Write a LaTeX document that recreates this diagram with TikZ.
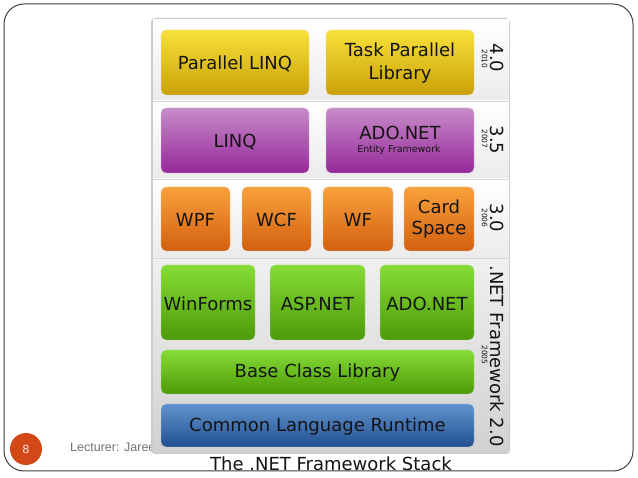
\documentclass[tikz,border=0pt]{standalone}
\usepackage{fontspec}
\setmainfont{DejaVu Sans}
\newfontfamily\arialf{Liberation Sans}
\definecolor{ytop}{HTML}{F7E13A}\definecolor{ybot}{HTML}{C9A006}
\definecolor{ptop}{HTML}{C78CC8}\definecolor{pbot}{HTML}{95289A}
\definecolor{otop}{HTML}{F9A13C}\definecolor{obot}{HTML}{D2600F}
\definecolor{gtop}{HTML}{86DC35}\definecolor{gbot}{HTML}{4C9A08}
\definecolor{btop}{HTML}{5F93CE}\definecolor{bbot}{HTML}{23508F}
\definecolor{ink}{HTML}{141414}
\definecolor{badge}{HTML}{D34817}
\tikzset{
  lbl/.style={font=\fontsize{18}{21}\selectfont,text=ink,align=center,inner sep=0pt,yshift=-1pt},
  ver/.style={font=\fontsize{18}{21}\selectfont,text=ink,rotate=-90,inner sep=0pt},
  yr/.style={font=\fontsize{7.5}{8}\selectfont,text=ink,rotate=-90,inner sep=0pt},
  rowline/.style={draw=black!16,line width=0.6pt}
}
\newcommand{\blk}[7]{% name, x1,y1,x2,y2, colour prefix, text
  \path[rounded corners=5pt,top color=#6top,bottom color=#6bot,draw=#6bot!35!white,line width=0.4pt] (#2,#3) rectangle (#4,#5);
  \node[lbl] (#1) at ({(#2+#4)/2},{(#3+#5)/2}) {#7};
}
\begin{document}
\begin{tikzpicture}[x=1pt,y=-1pt]
\useasboundingbox (0,0) rectangle (638,478);
\fill[white] (0,0) rectangle (638,478);
\draw[draw=black!75,line width=1pt,rounded corners=20pt] (4,4) rectangle (633,471);
\node[circle,fill=badge,minimum size=32pt,inner sep=0pt,text=white!90!badge,font=\arialf\fontsize{12}{14}\selectfont] (num) at (26,449) {8};
\node[anchor=west,inner sep=0pt,text=black!55,font=\arialf\fontsize{12.5}{14}\selectfont] (lect) at (70,447) {Lecturer: Jaree};
% panel
\path[rounded corners=4pt,fill=black!20] (151,18) rectangle (510,454);
\path[top color=white,bottom color=black!8] (153,20) -- (509,20) -- (509,101) -- (153,101) -- cycle;
\path[top color=white,bottom color=black!8] (153,101) rectangle (509,179);
\path[top color=white,bottom color=black!8] (153,179) rectangle (509,258);
\path[top color=black!6,bottom color=black!18] (153,258) rectangle (509,452);
\draw[rowline] (152,101) -- (510,101);
\draw[rowline] (152,179) -- (510,179);
\draw[rowline] (152,258) -- (510,258);
\blk{pl}{161}{30}{309}{95}{y}{Parallel LINQ}
\path[rounded corners=5pt,top color=ytop,bottom color=ybot,draw=ybot!35!white,line width=0.4pt] (326,30) rectangle (474,95);
\node[lbl,yshift=-1pt] (tpl) at (400,61.5) {Task Parallel\\[2pt]Library};
\blk{linq}{161}{108}{309}{173}{p}{LINQ}
\path[rounded corners=5pt,top color=ptop,bottom color=pbot,draw=pbot!35!white,line width=0.4pt] (326,108) rectangle (474,173);
\node[lbl,yshift=1pt] (ado) at (400,133) {ADO.NET};
\node[inner sep=0pt,text=ink,font=\fontsize{9.5}{11}\selectfont] (ef) at (399,150) {Entity Framework};
\blk{wpf}{161}{187}{230}{251}{o}{WPF}
\blk{wcf}{242}{187}{311}{251}{o}{WCF}
\blk{wf}{323}{187}{393}{251}{o}{WF}
\path[rounded corners=5pt,top color=otop,bottom color=obot,draw=obot!35!white,line width=0.4pt] (404,187) rectangle (474,251);
\node[lbl,yshift=1pt] (card) at (439,219) {Card\\Space};
\blk{winf}{161}{265}{255}{340}{g}{WinForms}
\blk{asp}{270}{265}{365}{340}{g}{ASP.NET}
\blk{ado2}{380}{265}{474}{340}{g}{ADO.NET}
\blk{bcl}{161}{350}{474}{394}{g}{Base Class Library}
\blk{clr}{161}{404}{474}{447}{b}{Common Language Runtime}
\node[ver] (v40) at (497,58) {4.0};
\node[yr] (y40) at (484.5,59) {2010};
\node[ver] (v35) at (497,140) {3.5};
\node[yr] (y35) at (484.5,139) {2007};
\node[ver] (v30) at (497,218) {3.0};
\node[yr] (y30) at (484.5,218) {2006};
\node[ver] (v20) at (497,356) {.NET Framework 2.0};
\node[yr] (y20) at (484.5,355) {2005};
\node[inner sep=0pt,text=ink,font=\fontsize{18}{21}\selectfont] (cap) at (331,464) {The .NET Framework Stack};
\end{tikzpicture}
\end{document}
